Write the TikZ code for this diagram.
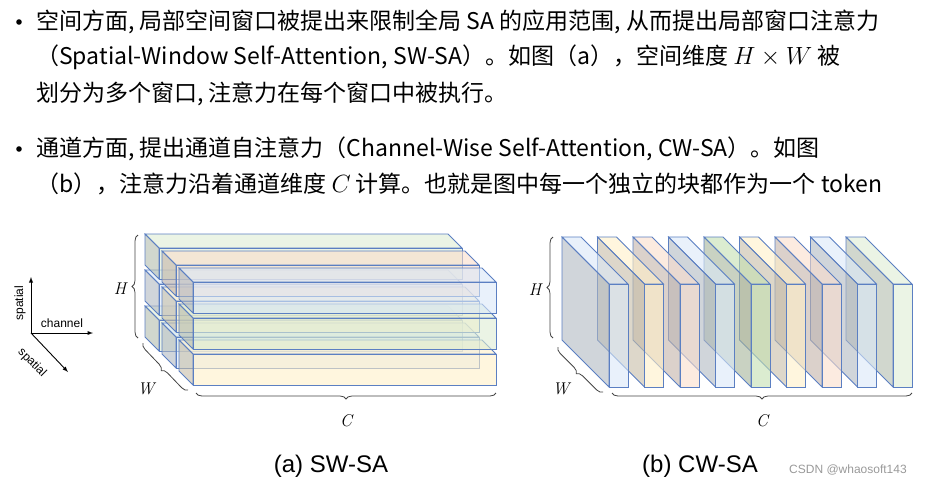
\documentclass[tikz,border=0pt]{standalone}
\usepackage{fontspec}
\newfontfamily\cjk{Noto Sans CJK SC}
\newfontfamily\lsans{Liberation Sans}
\usetikzlibrary{decorations.pathreplacing}
\definecolor{cb}{HTML}{DAE8F8}
\definecolor{cy}{HTML}{FFF0C8}
\definecolor{cp}{HTML}{FADDCB}
\definecolor{cg}{HTML}{DDEDD3}
\definecolor{cgd}{HTML}{C3DFB0}
\definecolor{edge}{HTML}{5B7FC2}
\definecolor{brc}{HTML}{444444}
\tikzset{
 face/.style={draw=edge, line width=0.8pt, fill opacity=.6},
 brc/.style={draw=brc, line width=0.8pt, decorate, decoration={brace, amplitude=6pt}},
 dimlbl/.style={font=\itshape\fontsize{17}{17}\selectfont},
 txt/.style={anchor=base west, inner sep=0pt, font=\cjk\fontsize{23}{26}\selectfont},
 ttl/.style={font=\lsans\fontsize{24}{26}\selectfont},
 ax/.style={-latex, line width=0.9pt}
}
% x y w h d color
\newcommand\cuboid[6]{%
 \filldraw[face, fill=#6] (#1,#2) -- ({#1-#5},{#2-#5}) -- ({#1+#3-#5},{#2-#5}) -- ({#1+#3},#2) -- cycle;
 \filldraw[face, fill={#6!55!gray}] (#1,#2) -- ({#1-#5},{#2-#5}) -- ({#1-#5},{#2+#4-#5}) -- (#1,{#2+#4}) -- cycle;
 \filldraw[face, fill=#6] (#1,#2) rectangle ({#1+#3},{#2+#4});
}
\begin{document}
\begin{tikzpicture}[x=1pt,y=-1pt]
\useasboundingbox (0,0) rectangle (927,488);
% text
\fill (19,22) circle (2.8);
\fill (19,149) circle (2.8);
\node[txt] (l1) at (36,29) {空间方面, 局部空间窗口被提出来限制全局 SA 的应用范围, 从而提出局部窗口注意力};
\node[txt] (l2) at (36,64) {（Spatial-Window Self-Attention, SW-SA）。如图（a），空间维度 $H\times W$ 被};
\node[txt] (l3) at (36,101) {划分为多个窗口, 注意力在每个窗口中被执行。};
\node[txt] (l4) at (36,156) {通道方面, 提出通道自注意力（Channel-Wise Self-Attention, CW-SA）。如图};
\node[txt] (l5) at (36,192) {（b），注意力沿着通道维度 $C$ 计算。也就是图中每一个独立的块都作为一个 token};
% axes
\coordinate (o) at (31,333);
\coordinate (au) at (31,277);
\coordinate (ar) at (93,333);
\coordinate (ad) at (68,372);
\draw[ax] (o) -- (au);
\draw[ax] (o) -- (ar);
\draw[ax] (o) -- (ad);
\node[font=\lsans\fontsize{12}{12}\selectfont, rotate=90] (sp1) at (20,303) {spatial};
\node[font=\lsans\fontsize{12}{12}\selectfont] (ch) at (62,323) {channel};
\node[font=\lsans\fontsize{12}{12}\selectfont, rotate=-45, inner sep=0pt] (sp2) at (32,363) {spatial};
% SW-SA
\foreach \lx/\ty/\ca/\cbb/\cc in {159/248/cg/cb/cg, 176/265/cp/cy/cb, 193/282/cb/cg/cy}{
 \cuboid{\lx}{\ty+72}{303}{31}{14}{\cc}
 \cuboid{\lx}{\ty+36}{303}{31}{14}{\cbb}
 \cuboid{\lx}{\ty}{303}{31}{14}{\ca}
}
\coordinate (ha1) at (138,338); \coordinate (ha2) at (138,235);
\draw[brc] (ha1) -- (ha2);
\node[dimlbl] (H1) at (120,289) {H};
\coordinate (wa1) at (143,343); \coordinate (wa2) at (188,390);
\draw[brc] (wa2) -- (wa1);
\node[dimlbl] (W1) at (146,389) {W};
\coordinate (ca1) at (196,393); \coordinate (ca2) at (496,393);
\draw[brc] (ca2) -- (ca1);
\node[dimlbl] (C1) at (346,421) {C};
\node[ttl] (t1) at (331,466) {(a) SW-SA};
% CW-SA
\foreach \i/\c in {8/cg,7/cb,6/cp,5/cy,4/cgd,3/cb,2/cp,1/cy,0/cb}{
 \cuboid{609+35.5*\i}{284}{19}{103}{47}{\c}
}
\coordinate (hb1) at (553,338); \coordinate (hb2) at (553,237);
\draw[brc] (hb1) -- (hb2);
\node[dimlbl] (H2) at (535,290) {H};
\coordinate (wb1) at (558,347); \coordinate (wb2) at (603,392);
\draw[brc] (wb2) -- (wb1);
\node[dimlbl] (W2) at (561,389) {W};
\coordinate (cb1) at (612,393); \coordinate (cb2) at (912,393);
\draw[brc] (cb2) -- (cb1);
\node[dimlbl] (C2) at (762,421) {C};
\node[ttl] (t2) at (700,466) {(b) CW-SA};
\node[font=\lsans\fontsize{12}{12}\selectfont, text=gray!80] (wm) at (848,470) {CSDN @whaosoft143};
\end{tikzpicture}
\end{document}
